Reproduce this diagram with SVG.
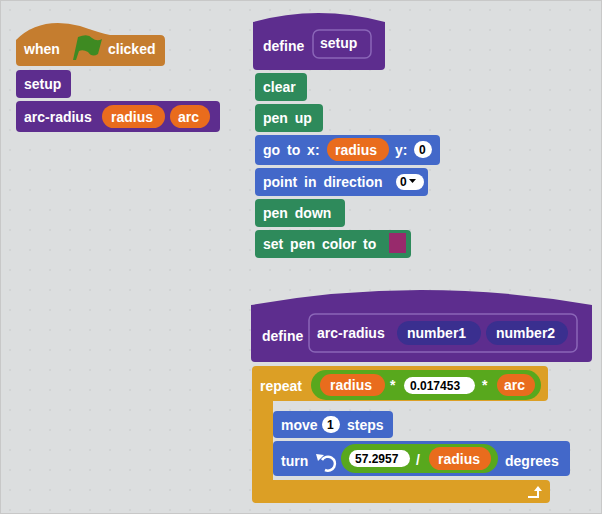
<svg xmlns="http://www.w3.org/2000/svg" width="602" height="514" viewBox="0 0 602 514">
<defs>
<pattern id="dots" width="20" height="20" patternUnits="userSpaceOnUse"><rect width="20" height="20" fill="#dcdedf"/><path d="M9 10h2M10 9v2" stroke="#cfd1d2" stroke-width="1"/></pattern>
<style>
text{font-family:"Liberation Sans",Arial,sans-serif;font-weight:bold;font-size:14px;word-spacing:3px;fill:#fff}
.d{fill:#000;font-size:12px}
.ev{fill:#c57d2f}.cu{fill:#5d2d8e}.pen{fill:#2e8a5b}.mo{fill:#4368c9}.ct{fill:#dc9f25}.op{fill:#58a81d}.va{fill:#e96c1d}.ar{fill:#3a2f8f}
.out{fill:none;stroke:#8a66b8;stroke-width:1.5}
</style>
</defs>
<rect width="602" height="514" fill="url(#dots)"/>
<rect x="0.5" y="0.5" width="601" height="513" fill="none" stroke="#c8c8c8"/>

<g id="when-clicked">
<path class="ev" d="M16 66V40Q40 16 80 26Q100 33 110 35H160Q165 35 165 40V62Q165 66 161 66H20Q16 66 16 62Z"/>
<text x="24" y="54">when</text>
<path d="M73 60L78 37Q88 33 92 38Q97 42 102 39L98 54Q92 58 88 52Q83 49 79 51L76 60Z" fill="#3e8a22"/>
<text x="108" y="54">clicked</text>
</g>
<g id="setup-call"><rect class="cu" x="16" y="70" width="55" height="28" rx="4"/><text x="24" y="89">setup</text></g>
<g id="arc-radius-call"><rect class="cu" x="16" y="101" width="204" height="31" rx="4"/><text x="24" y="122">arc-radius</text>
<rect class="va" x="102" y="105" width="63" height="23" rx="11.5"/><text x="111" y="122">radius</text>
<rect class="va" x="170" y="105" width="40" height="23" rx="11.5"/><text x="178" y="122">arc</text></g>

<g id="define-setup">
<path class="cu" d="M253 70V22Q318 4 385 22V66Q385 70 381 70H257Q253 70 253 66Z"/>
<text x="263" y="51">define</text>
<rect class="out" x="313" y="30" width="58" height="28" rx="6"/><text x="320" y="48">setup</text>
</g>
<g id="clear"><rect class="pen" x="255" y="73" width="52" height="28" rx="4"/><text x="263" y="92">clear</text></g>
<g id="pen-up"><rect class="pen" x="255" y="104" width="68" height="28" rx="4"/><text x="263" y="123">pen up</text></g>
<g id="go-to"><rect class="mo" x="255" y="135" width="185" height="30" rx="4"/><text x="263" y="155">go to x:</text>
<rect class="va" x="327" y="138" width="62" height="23" rx="11.5"/><text x="335" y="155">radius</text>
<text x="395" y="155">y:</text><rect x="414" y="141" width="18" height="17" rx="8.5" fill="#fff"/><text class="d" x="419" y="154">0</text></g>
<g id="point-dir"><rect class="mo" x="255" y="168" width="173" height="28" rx="4"/><text x="263" y="187">point in direction</text>
<rect x="396" y="174" width="28" height="16" rx="8" fill="#fff"/><text class="d" x="400" y="186">0</text><path d="M409 179h7l-3.5 4z" fill="#000"/></g>
<g id="pen-down"><rect class="pen" x="255" y="199" width="90" height="28" rx="4"/><text x="263" y="218">pen down</text></g>
<g id="set-pen-color"><rect class="pen" x="255" y="230" width="156" height="28" rx="4"/><text x="263" y="249">set pen color to</text>
<rect x="389" y="233" width="17" height="20" fill="#982a6c"/></g>

<g id="define-arc-radius">
<path class="cu" d="M251 362V305Q420 275 592 305V358Q592 362 588 362H255Q251 362 251 358Z"/>
<text x="262" y="341">define</text>
<rect class="out" x="309" y="314" width="268" height="38" rx="6"/>
<text x="317" y="338">arc-radius</text>
<rect class="ar" x="397" y="321" width="84" height="24" rx="12"/><text x="407" y="338">number1</text>
<rect class="ar" x="486" y="321" width="82" height="24" rx="12"/><text x="496" y="338">number2</text>
</g>
<g id="repeat">
<path class="ct" d="M252 370Q252 366 256 366H544Q548 366 548 370V397Q548 401 544 401H273V480H546Q550 480 550 484V499Q550 503 546 503H256Q252 503 252 499Z"/>
<text x="260" y="391">repeat</text>
<rect class="op" x="311" y="370" width="230" height="30" rx="15"/>
<rect class="va" x="320" y="374" width="65" height="22" rx="11"/><text x="330" y="390">radius</text>
<text x="390" y="390">*</text>
<rect x="404" y="377" width="71" height="17" rx="8.5" fill="#fff"/><text class="d" x="410" y="390">0.017453</text>
<text x="482" y="390">*</text>
<rect class="va" x="497" y="374" width="38" height="22" rx="11"/><text x="504" y="390">arc</text>
<path d="M528 496h9v-5h-3l4-5 4 5h-3v7h-11z" fill="#fff"/>
</g>
<g id="move"><rect class="mo" x="273" y="411" width="120" height="27" rx="4"/><text x="281" y="430">move</text>
<rect x="322" y="416" width="18" height="17" rx="8.5" fill="#fff"/><text class="d" x="327" y="429">1</text><text x="347" y="430">steps</text></g>
<g id="turn"><rect class="mo" x="273" y="441" width="297" height="35" rx="4"/><text x="281" y="466">turn</text>
<path d="M322 460a7 7 0 1 1 3 10" fill="none" stroke="#fff" stroke-width="2.5"/><path d="M316 454l8 1-6 6z" fill="#fff"/>
<rect class="op" x="341" y="444" width="157" height="29" rx="14.5"/>
<rect x="349" y="450" width="61" height="17" rx="8.5" fill="#fff"/><text class="d" x="355" y="463">57.2957</text>
<text x="416" y="465">/</text>
<rect class="va" x="429" y="447" width="62" height="23" rx="11.5"/><text x="438" y="464">radius</text>
<text x="505" y="466">degrees</text></g>
</svg>
